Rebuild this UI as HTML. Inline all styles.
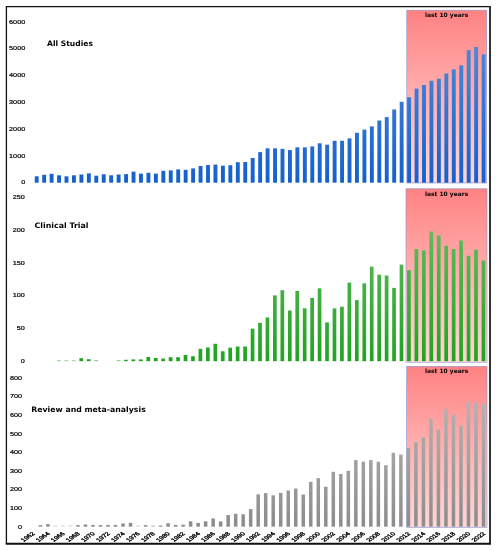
<!DOCTYPE html>
<html><head><meta charset="utf-8"><title>Studies per year</title>
<style>
html,body{margin:0;padding:0;background:#fff;}
svg{display:block;}
text{font-family:"Liberation Sans","DejaVu Sans",sans-serif;}
.ax{font-size:5.8px;fill:#000;text-anchor:end;stroke:#000;stroke-width:0.2px;}
.ttl{font-family:"DejaVu Sans","Liberation Sans",sans-serif;font-weight:bold;font-size:7.5px;fill:#000;}
.l10{font-family:"DejaVu Sans","Liberation Sans",sans-serif;font-weight:bold;font-size:5.95px;fill:#000;text-anchor:middle;}
.yr{font-size:5.05px;fill:#000;text-anchor:end;stroke:#000;stroke-width:0.3px;}
</style></head><body>
<svg width="497" height="550" viewBox="0 0 497 550">
<defs>
<linearGradient id="pk" x1="0" y1="0" x2="0" y2="1"><stop offset="0" stop-color="#ff8282"/><stop offset="0.5" stop-color="#ffb0b0"/><stop offset="1" stop-color="#ffd6d6"/></linearGradient>
<linearGradient id="gb" gradientUnits="userSpaceOnUse" x1="0" y1="40" x2="0" y2="183"><stop offset="0" stop-color="#4f8ad8"/><stop offset="1" stop-color="#1460ce"/></linearGradient>
<linearGradient id="gg" gradientUnits="userSpaceOnUse" x1="0" y1="225" x2="0" y2="361"><stop offset="0" stop-color="#62bb60"/><stop offset="1" stop-color="#20a420"/></linearGradient>
<linearGradient id="gy" gradientUnits="userSpaceOnUse" x1="0" y1="400" x2="0" y2="527"><stop offset="0" stop-color="#b4b4b4"/><stop offset="1" stop-color="#8c8c8c"/></linearGradient>
</defs>
<rect x="0" y="0" width="497" height="550" fill="#fff"/>
<rect x="406.8" y="10.2" width="79.9" height="172.8" fill="url(#pk)" stroke="#8592d2" stroke-width="0.6"/>
<rect x="406.0" y="188.8" width="81.0" height="173.4" fill="url(#pk)" stroke="#8592d2" stroke-width="0.6"/>
<rect x="406.7" y="366.3" width="80.3" height="161.0" fill="url(#pk)" stroke="#8592d2" stroke-width="0.6"/>
<g>
<rect x="34.75" y="176.30" width="3.9" height="6.40" fill="url(#gb)"/>
<rect x="42.20" y="174.80" width="3.9" height="7.90" fill="url(#gb)"/>
<rect x="49.65" y="173.80" width="3.9" height="8.90" fill="url(#gb)"/>
<rect x="57.09" y="175.30" width="3.9" height="7.40" fill="url(#gb)"/>
<rect x="64.54" y="176.30" width="3.9" height="6.40" fill="url(#gb)"/>
<rect x="71.99" y="175.30" width="3.9" height="7.40" fill="url(#gb)"/>
<rect x="79.44" y="174.50" width="3.9" height="8.20" fill="url(#gb)"/>
<rect x="86.89" y="173.40" width="3.9" height="9.30" fill="url(#gb)"/>
<rect x="94.33" y="175.70" width="3.9" height="7.00" fill="url(#gb)"/>
<rect x="101.78" y="174.30" width="3.9" height="8.40" fill="url(#gb)"/>
<rect x="109.23" y="175.30" width="3.9" height="7.40" fill="url(#gb)"/>
<rect x="116.68" y="174.50" width="3.9" height="8.20" fill="url(#gb)"/>
<rect x="124.13" y="174.10" width="3.9" height="8.60" fill="url(#gb)"/>
<rect x="131.57" y="171.65" width="3.9" height="11.05" fill="url(#gb)"/>
<rect x="139.02" y="173.65" width="3.9" height="9.05" fill="url(#gb)"/>
<rect x="146.47" y="172.80" width="3.9" height="9.90" fill="url(#gb)"/>
<rect x="153.92" y="173.65" width="3.9" height="9.05" fill="url(#gb)"/>
<rect x="161.37" y="170.80" width="3.9" height="11.90" fill="url(#gb)"/>
<rect x="168.81" y="170.40" width="3.9" height="12.30" fill="url(#gb)"/>
<rect x="176.26" y="169.40" width="3.9" height="13.30" fill="url(#gb)"/>
<rect x="183.71" y="169.80" width="3.9" height="12.90" fill="url(#gb)"/>
<rect x="191.16" y="168.40" width="3.9" height="14.30" fill="url(#gb)"/>
<rect x="198.61" y="166.00" width="3.9" height="16.70" fill="url(#gb)"/>
<rect x="206.05" y="165.00" width="3.9" height="17.70" fill="url(#gb)"/>
<rect x="213.50" y="164.60" width="3.9" height="18.10" fill="url(#gb)"/>
<rect x="220.95" y="165.70" width="3.9" height="17.00" fill="url(#gb)"/>
<rect x="228.40" y="165.20" width="3.9" height="17.50" fill="url(#gb)"/>
<rect x="235.85" y="162.20" width="3.9" height="20.50" fill="url(#gb)"/>
<rect x="243.29" y="162.00" width="3.9" height="20.70" fill="url(#gb)"/>
<rect x="250.74" y="158.00" width="3.9" height="24.70" fill="url(#gb)"/>
<rect x="258.19" y="152.10" width="3.9" height="30.60" fill="url(#gb)"/>
<rect x="265.64" y="148.30" width="3.9" height="34.40" fill="url(#gb)"/>
<rect x="273.09" y="148.30" width="3.9" height="34.40" fill="url(#gb)"/>
<rect x="280.53" y="148.90" width="3.9" height="33.80" fill="url(#gb)"/>
<rect x="287.98" y="150.10" width="3.9" height="32.60" fill="url(#gb)"/>
<rect x="295.43" y="147.30" width="3.9" height="35.40" fill="url(#gb)"/>
<rect x="302.88" y="147.40" width="3.9" height="35.30" fill="url(#gb)"/>
<rect x="310.33" y="146.40" width="3.9" height="36.30" fill="url(#gb)"/>
<rect x="317.77" y="143.30" width="3.9" height="39.40" fill="url(#gb)"/>
<rect x="325.22" y="144.70" width="3.9" height="38.00" fill="url(#gb)"/>
<rect x="332.67" y="140.80" width="3.9" height="41.90" fill="url(#gb)"/>
<rect x="340.12" y="140.80" width="3.9" height="41.90" fill="url(#gb)"/>
<rect x="347.57" y="138.40" width="3.9" height="44.30" fill="url(#gb)"/>
<rect x="355.01" y="132.80" width="3.9" height="49.90" fill="url(#gb)"/>
<rect x="362.46" y="129.60" width="3.9" height="53.10" fill="url(#gb)"/>
<rect x="369.91" y="126.40" width="3.9" height="56.30" fill="url(#gb)"/>
<rect x="377.36" y="120.50" width="3.9" height="62.20" fill="url(#gb)"/>
<rect x="384.81" y="117.10" width="3.9" height="65.60" fill="url(#gb)"/>
<rect x="392.25" y="109.50" width="3.9" height="73.20" fill="url(#gb)"/>
<rect x="399.70" y="101.80" width="3.9" height="80.90" fill="url(#gb)"/>
<rect x="407.15" y="97.30" width="3.9" height="85.40" fill="url(#gb)"/>
<rect x="414.60" y="88.60" width="3.9" height="94.10" fill="url(#gb)"/>
<rect x="422.05" y="85.00" width="3.9" height="97.70" fill="url(#gb)"/>
<rect x="429.49" y="80.80" width="3.9" height="101.90" fill="url(#gb)"/>
<rect x="436.94" y="78.70" width="3.9" height="104.00" fill="url(#gb)"/>
<rect x="444.39" y="73.50" width="3.9" height="109.20" fill="url(#gb)"/>
<rect x="451.84" y="69.30" width="3.9" height="113.40" fill="url(#gb)"/>
<rect x="459.29" y="65.30" width="3.9" height="117.40" fill="url(#gb)"/>
<rect x="466.73" y="50.00" width="3.9" height="132.70" fill="url(#gb)"/>
<rect x="474.18" y="47.00" width="3.9" height="135.70" fill="url(#gb)"/>
<rect x="481.63" y="54.40" width="3.9" height="128.30" fill="url(#gb)"/>
</g>
<g>
<rect x="57.04" y="360.10" width="3.7" height="1.10" fill="url(#gg)" opacity="0.46"/>
<rect x="64.49" y="360.10" width="3.7" height="1.10" fill="url(#gg)" opacity="0.46"/>
<rect x="71.94" y="360.10" width="3.7" height="1.10" fill="url(#gg)" opacity="0.46"/>
<rect x="79.39" y="358.20" width="3.7" height="3.00" fill="url(#gg)"/>
<rect x="86.84" y="359.20" width="3.7" height="2.00" fill="url(#gg)"/>
<rect x="94.28" y="360.10" width="3.7" height="1.10" fill="url(#gg)" opacity="0.54"/>
<rect x="116.63" y="360.10" width="3.7" height="1.10" fill="url(#gg)" opacity="0.54"/>
<rect x="124.08" y="359.80" width="3.7" height="1.40" fill="url(#gg)"/>
<rect x="131.52" y="359.40" width="3.7" height="1.80" fill="url(#gg)"/>
<rect x="138.97" y="359.40" width="3.7" height="1.80" fill="url(#gg)"/>
<rect x="146.42" y="357.00" width="3.7" height="4.20" fill="url(#gg)"/>
<rect x="153.87" y="358.00" width="3.7" height="3.20" fill="url(#gg)"/>
<rect x="161.32" y="358.60" width="3.7" height="2.60" fill="url(#gg)"/>
<rect x="168.76" y="357.20" width="3.7" height="4.00" fill="url(#gg)"/>
<rect x="176.21" y="357.20" width="3.7" height="4.00" fill="url(#gg)"/>
<rect x="183.66" y="355.00" width="3.7" height="6.20" fill="url(#gg)"/>
<rect x="191.11" y="356.20" width="3.7" height="5.00" fill="url(#gg)"/>
<rect x="198.56" y="348.90" width="3.7" height="12.30" fill="url(#gg)"/>
<rect x="206.00" y="347.50" width="3.7" height="13.70" fill="url(#gg)"/>
<rect x="213.45" y="343.80" width="3.7" height="17.40" fill="url(#gg)"/>
<rect x="220.90" y="351.30" width="3.7" height="9.90" fill="url(#gg)"/>
<rect x="228.35" y="347.70" width="3.7" height="13.50" fill="url(#gg)"/>
<rect x="235.80" y="346.50" width="3.7" height="14.70" fill="url(#gg)"/>
<rect x="243.24" y="346.50" width="3.7" height="14.70" fill="url(#gg)"/>
<rect x="250.69" y="328.60" width="3.7" height="32.60" fill="url(#gg)"/>
<rect x="258.14" y="322.80" width="3.7" height="38.40" fill="url(#gg)"/>
<rect x="265.59" y="317.50" width="3.7" height="43.70" fill="url(#gg)"/>
<rect x="273.04" y="295.40" width="3.7" height="65.80" fill="url(#gg)"/>
<rect x="280.48" y="290.20" width="3.7" height="71.00" fill="url(#gg)"/>
<rect x="287.93" y="310.50" width="3.7" height="50.70" fill="url(#gg)"/>
<rect x="295.38" y="291.00" width="3.7" height="70.20" fill="url(#gg)"/>
<rect x="302.83" y="308.30" width="3.7" height="52.90" fill="url(#gg)"/>
<rect x="310.28" y="297.90" width="3.7" height="63.30" fill="url(#gg)"/>
<rect x="317.72" y="288.30" width="3.7" height="72.90" fill="url(#gg)"/>
<rect x="325.17" y="322.40" width="3.7" height="38.80" fill="url(#gg)"/>
<rect x="332.62" y="308.40" width="3.7" height="52.80" fill="url(#gg)"/>
<rect x="340.07" y="306.70" width="3.7" height="54.50" fill="url(#gg)"/>
<rect x="347.52" y="282.60" width="3.7" height="78.60" fill="url(#gg)"/>
<rect x="354.96" y="300.10" width="3.7" height="61.10" fill="url(#gg)"/>
<rect x="362.41" y="283.30" width="3.7" height="77.90" fill="url(#gg)"/>
<rect x="369.86" y="266.70" width="3.7" height="94.50" fill="url(#gg)"/>
<rect x="377.31" y="274.60" width="3.7" height="86.60" fill="url(#gg)"/>
<rect x="384.76" y="275.50" width="3.7" height="85.70" fill="url(#gg)"/>
<rect x="392.20" y="287.90" width="3.7" height="73.30" fill="url(#gg)"/>
<rect x="399.65" y="264.60" width="3.7" height="96.60" fill="url(#gg)"/>
<rect x="407.10" y="270.10" width="3.7" height="91.10" fill="url(#gg)"/>
<rect x="414.55" y="249.00" width="3.7" height="112.20" fill="url(#gg)"/>
<rect x="422.00" y="250.40" width="3.7" height="110.80" fill="url(#gg)"/>
<rect x="429.44" y="231.50" width="3.7" height="129.70" fill="url(#gg)"/>
<rect x="436.89" y="235.30" width="3.7" height="125.90" fill="url(#gg)"/>
<rect x="444.34" y="245.80" width="3.7" height="115.40" fill="url(#gg)"/>
<rect x="451.79" y="249.00" width="3.7" height="112.20" fill="url(#gg)"/>
<rect x="459.24" y="240.50" width="3.7" height="120.70" fill="url(#gg)"/>
<rect x="466.68" y="255.80" width="3.7" height="105.40" fill="url(#gg)"/>
<rect x="474.13" y="249.60" width="3.7" height="111.60" fill="url(#gg)"/>
<rect x="481.58" y="260.50" width="3.7" height="100.70" fill="url(#gg)"/>
</g>
<g>
<rect x="38.66" y="525.20" width="3.5" height="1.50" fill="url(#gy)"/>
<rect x="46.17" y="524.10" width="3.5" height="2.60" fill="url(#gy)"/>
<rect x="53.68" y="525.60" width="3.5" height="1.10" fill="url(#gy)" opacity="0.38"/>
<rect x="61.19" y="525.60" width="3.5" height="1.10" fill="url(#gy)" opacity="0.38"/>
<rect x="68.70" y="525.60" width="3.5" height="1.10" fill="url(#gy)" opacity="0.38"/>
<rect x="76.21" y="525.10" width="3.5" height="1.60" fill="url(#gy)"/>
<rect x="83.72" y="524.50" width="3.5" height="2.20" fill="url(#gy)"/>
<rect x="91.23" y="524.90" width="3.5" height="1.80" fill="url(#gy)"/>
<rect x="98.74" y="525.10" width="3.5" height="1.60" fill="url(#gy)"/>
<rect x="106.25" y="524.90" width="3.5" height="1.80" fill="url(#gy)"/>
<rect x="113.76" y="524.90" width="3.5" height="1.80" fill="url(#gy)"/>
<rect x="121.27" y="523.50" width="3.5" height="3.20" fill="url(#gy)"/>
<rect x="128.78" y="522.90" width="3.5" height="3.80" fill="url(#gy)"/>
<rect x="136.29" y="525.60" width="3.5" height="1.10" fill="url(#gy)" opacity="0.46"/>
<rect x="143.80" y="525.10" width="3.5" height="1.60" fill="url(#gy)"/>
<rect x="151.31" y="525.60" width="3.5" height="1.10" fill="url(#gy)" opacity="0.62"/>
<rect x="158.82" y="525.50" width="3.5" height="1.20" fill="url(#gy)"/>
<rect x="166.33" y="523.30" width="3.5" height="3.40" fill="url(#gy)"/>
<rect x="173.84" y="524.90" width="3.5" height="1.80" fill="url(#gy)"/>
<rect x="181.35" y="524.70" width="3.5" height="2.00" fill="url(#gy)"/>
<rect x="188.86" y="521.30" width="3.5" height="5.40" fill="url(#gy)"/>
<rect x="196.37" y="522.90" width="3.5" height="3.80" fill="url(#gy)"/>
<rect x="203.88" y="521.30" width="3.5" height="5.40" fill="url(#gy)"/>
<rect x="211.39" y="518.40" width="3.5" height="8.30" fill="url(#gy)"/>
<rect x="218.90" y="521.40" width="3.5" height="5.30" fill="url(#gy)"/>
<rect x="226.41" y="515.10" width="3.5" height="11.60" fill="url(#gy)"/>
<rect x="233.92" y="513.80" width="3.5" height="12.90" fill="url(#gy)"/>
<rect x="241.43" y="514.30" width="3.5" height="12.40" fill="url(#gy)"/>
<rect x="248.94" y="509.10" width="3.5" height="17.60" fill="url(#gy)"/>
<rect x="256.45" y="494.40" width="3.5" height="32.30" fill="url(#gy)"/>
<rect x="263.96" y="493.10" width="3.5" height="33.60" fill="url(#gy)"/>
<rect x="271.47" y="495.30" width="3.5" height="31.40" fill="url(#gy)"/>
<rect x="278.98" y="492.90" width="3.5" height="33.80" fill="url(#gy)"/>
<rect x="286.49" y="490.50" width="3.5" height="36.20" fill="url(#gy)"/>
<rect x="294.00" y="488.50" width="3.5" height="38.20" fill="url(#gy)"/>
<rect x="301.51" y="494.50" width="3.5" height="32.20" fill="url(#gy)"/>
<rect x="309.02" y="481.80" width="3.5" height="44.90" fill="url(#gy)"/>
<rect x="316.53" y="478.20" width="3.5" height="48.50" fill="url(#gy)"/>
<rect x="324.04" y="486.70" width="3.5" height="40.00" fill="url(#gy)"/>
<rect x="331.55" y="471.80" width="3.5" height="54.90" fill="url(#gy)"/>
<rect x="339.06" y="474.00" width="3.5" height="52.70" fill="url(#gy)"/>
<rect x="346.57" y="470.80" width="3.5" height="55.90" fill="url(#gy)"/>
<rect x="354.08" y="460.10" width="3.5" height="66.60" fill="url(#gy)"/>
<rect x="361.59" y="461.70" width="3.5" height="65.00" fill="url(#gy)"/>
<rect x="369.10" y="460.10" width="3.5" height="66.60" fill="url(#gy)"/>
<rect x="376.61" y="461.70" width="3.5" height="65.00" fill="url(#gy)"/>
<rect x="384.12" y="465.20" width="3.5" height="61.50" fill="url(#gy)"/>
<rect x="391.63" y="452.80" width="3.5" height="73.90" fill="url(#gy)"/>
<rect x="399.14" y="454.60" width="3.5" height="72.10" fill="url(#gy)"/>
<rect x="406.65" y="448.00" width="3.5" height="78.70" fill="url(#gy)"/>
<rect x="414.16" y="442.20" width="3.5" height="84.50" fill="url(#gy)"/>
<rect x="421.67" y="437.40" width="3.5" height="89.30" fill="url(#gy)"/>
<rect x="429.18" y="418.50" width="3.5" height="108.20" fill="url(#gy)"/>
<rect x="436.69" y="429.60" width="3.5" height="97.10" fill="url(#gy)"/>
<rect x="444.20" y="409.20" width="3.5" height="117.50" fill="url(#gy)"/>
<rect x="451.71" y="414.80" width="3.5" height="111.90" fill="url(#gy)"/>
<rect x="459.22" y="425.60" width="3.5" height="101.10" fill="url(#gy)"/>
<rect x="466.73" y="401.70" width="3.5" height="125.00" fill="url(#gy)"/>
<rect x="474.24" y="402.40" width="3.5" height="124.30" fill="url(#gy)"/>
<rect x="481.75" y="403.70" width="3.5" height="123.00" fill="url(#gy)"/>
</g>
<text class="ax" transform="translate(25.2,184.35) scale(1.25,1)">0</text>
<text class="ax" transform="translate(25.2,157.55) scale(1.25,1)">1000</text>
<text class="ax" transform="translate(25.2,130.75) scale(1.25,1)">2000</text>
<text class="ax" transform="translate(25.2,103.95) scale(1.25,1)">3000</text>
<text class="ax" transform="translate(25.2,77.15) scale(1.25,1)">4000</text>
<text class="ax" transform="translate(25.2,50.35) scale(1.25,1)">5000</text>
<text class="ax" transform="translate(25.2,23.55) scale(1.25,1)">6000</text>
<text class="ax" transform="translate(24.9,362.65) scale(1.25,1)">0</text>
<text class="ax" transform="translate(24.9,329.95) scale(1.25,1)">50</text>
<text class="ax" transform="translate(24.9,297.25) scale(1.25,1)">100</text>
<text class="ax" transform="translate(24.9,264.55) scale(1.25,1)">150</text>
<text class="ax" transform="translate(24.9,231.85) scale(1.25,1)">200</text>
<text class="ax" transform="translate(24.9,199.15) scale(1.25,1)">250</text>
<text class="ax" transform="translate(22.1,528.55) scale(1.25,1)">0</text>
<text class="ax" transform="translate(22.1,509.95) scale(1.25,1)">100</text>
<text class="ax" transform="translate(22.1,491.35) scale(1.25,1)">200</text>
<text class="ax" transform="translate(22.1,472.75) scale(1.25,1)">300</text>
<text class="ax" transform="translate(22.1,454.15) scale(1.25,1)">400</text>
<text class="ax" transform="translate(22.1,435.55) scale(1.25,1)">500</text>
<text class="ax" transform="translate(22.1,416.95) scale(1.25,1)">600</text>
<text class="ax" transform="translate(22.1,398.35) scale(1.25,1)">700</text>
<text class="ax" transform="translate(22.1,379.75) scale(1.25,1)">800</text>
<text class="ttl" x="47" y="46.4" textLength="46" lengthAdjust="spacingAndGlyphs">All Studies</text>
<text class="ttl" x="34.5" y="228" textLength="54" lengthAdjust="spacingAndGlyphs">Clinical Trial</text>
<text class="ttl" x="31.2" y="412" textLength="114.6" lengthAdjust="spacingAndGlyphs">Review and meta-analysis</text>
<text class="l10" x="446.6" y="16.7">last 10 years</text>
<text class="l10" x="446.6" y="195.7">last 10 years</text>
<text class="l10" x="446.6" y="373.0">last 10 years</text>
<text class="yr" transform="translate(31.60,531.5) scale(1.45,1) rotate(-45)" x="0" y="3.6">1962</text>
<text class="yr" transform="translate(46.62,531.5) scale(1.45,1) rotate(-45)" x="0" y="3.6">1964</text>
<text class="yr" transform="translate(61.64,531.5) scale(1.45,1) rotate(-45)" x="0" y="3.6">1966</text>
<text class="yr" transform="translate(76.66,531.5) scale(1.45,1) rotate(-45)" x="0" y="3.6">1968</text>
<text class="yr" transform="translate(91.68,531.5) scale(1.45,1) rotate(-45)" x="0" y="3.6">1970</text>
<text class="yr" transform="translate(106.70,531.5) scale(1.45,1) rotate(-45)" x="0" y="3.6">1972</text>
<text class="yr" transform="translate(121.72,531.5) scale(1.45,1) rotate(-45)" x="0" y="3.6">1974</text>
<text class="yr" transform="translate(136.74,531.5) scale(1.45,1) rotate(-45)" x="0" y="3.6">1976</text>
<text class="yr" transform="translate(151.76,531.5) scale(1.45,1) rotate(-45)" x="0" y="3.6">1978</text>
<text class="yr" transform="translate(166.78,531.5) scale(1.45,1) rotate(-45)" x="0" y="3.6">1980</text>
<text class="yr" transform="translate(181.80,531.5) scale(1.45,1) rotate(-45)" x="0" y="3.6">1982</text>
<text class="yr" transform="translate(196.82,531.5) scale(1.45,1) rotate(-45)" x="0" y="3.6">1984</text>
<text class="yr" transform="translate(211.84,531.5) scale(1.45,1) rotate(-45)" x="0" y="3.6">1986</text>
<text class="yr" transform="translate(226.86,531.5) scale(1.45,1) rotate(-45)" x="0" y="3.6">1988</text>
<text class="yr" transform="translate(241.88,531.5) scale(1.45,1) rotate(-45)" x="0" y="3.6">1990</text>
<text class="yr" transform="translate(256.90,531.5) scale(1.45,1) rotate(-45)" x="0" y="3.6">1992</text>
<text class="yr" transform="translate(271.92,531.5) scale(1.45,1) rotate(-45)" x="0" y="3.6">1994</text>
<text class="yr" transform="translate(286.94,531.5) scale(1.45,1) rotate(-45)" x="0" y="3.6">1996</text>
<text class="yr" transform="translate(301.96,531.5) scale(1.45,1) rotate(-45)" x="0" y="3.6">1998</text>
<text class="yr" transform="translate(316.98,531.5) scale(1.45,1) rotate(-45)" x="0" y="3.6">2000</text>
<text class="yr" transform="translate(332.00,531.5) scale(1.45,1) rotate(-45)" x="0" y="3.6">2002</text>
<text class="yr" transform="translate(347.02,531.5) scale(1.45,1) rotate(-45)" x="0" y="3.6">2004</text>
<text class="yr" transform="translate(362.04,531.5) scale(1.45,1) rotate(-45)" x="0" y="3.6">2006</text>
<text class="yr" transform="translate(377.06,531.5) scale(1.45,1) rotate(-45)" x="0" y="3.6">2008</text>
<text class="yr" transform="translate(392.08,531.5) scale(1.45,1) rotate(-45)" x="0" y="3.6">2010</text>
<text class="yr" transform="translate(407.10,531.5) scale(1.45,1) rotate(-45)" x="0" y="3.6">2012</text>
<text class="yr" transform="translate(422.12,531.5) scale(1.45,1) rotate(-45)" x="0" y="3.6">2014</text>
<text class="yr" transform="translate(437.14,531.5) scale(1.45,1) rotate(-45)" x="0" y="3.6">2016</text>
<text class="yr" transform="translate(452.16,531.5) scale(1.45,1) rotate(-45)" x="0" y="3.6">2018</text>
<text class="yr" transform="translate(467.18,531.5) scale(1.45,1) rotate(-45)" x="0" y="3.6">2020</text>
<text class="yr" transform="translate(482.20,531.5) scale(1.45,1) rotate(-45)" x="0" y="3.6">2022</text>
<path d="M6.4 544 V6.55 H490.9" fill="none" stroke="#111" stroke-width="1.3"/>
<path d="M490.0 5.9 V544" fill="none" stroke="#2a2a2a" stroke-width="1.9"/>
<path d="M5.75 543.7 H490.95" fill="none" stroke="#111" stroke-width="2"/>
</svg>
</body></html>
